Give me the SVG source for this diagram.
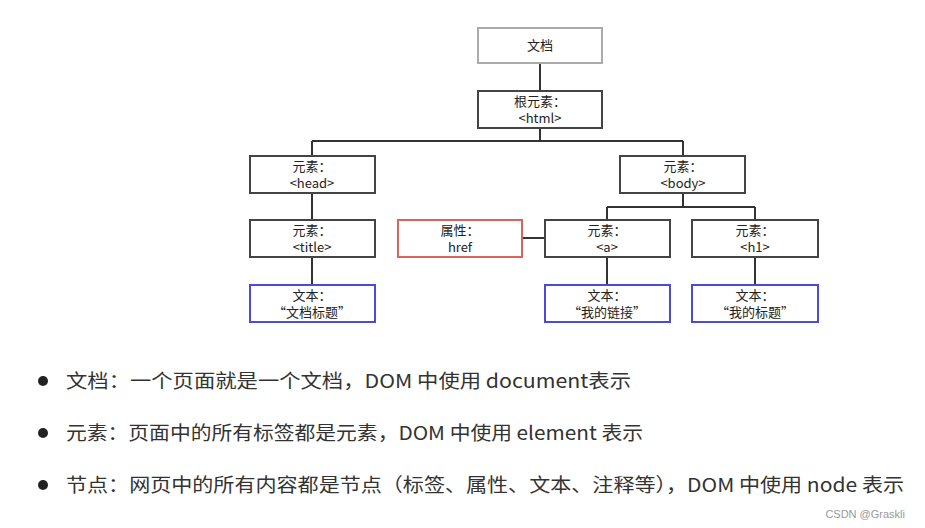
<svg xmlns="http://www.w3.org/2000/svg" width="925" height="528" viewBox="0 0 925 528">
<style>
.b{fill:#fff;stroke:#444;stroke-width:2}
.g{stroke:#aaa}.r{stroke:#e0605a}.u{stroke:#4a4ae0}
.t{font-family:"Noto Sans CJK SC",sans-serif;font-size:13px;fill:#222;text-anchor:middle}
.c line{stroke:#333;stroke-width:2}
.l{font-family:"Noto Sans CJK SC",sans-serif;font-size:19px;fill:#333}
</style>
<rect width="925" height="528" fill="#fff"/>
<g class="c">
<line x1="540" y1="63" x2="540" y2="91"/>
<line x1="540" y1="128" x2="540" y2="141"/>
<line x1="312" y1="141" x2="683" y2="141"/>
<line x1="312" y1="141" x2="312" y2="156"/>
<line x1="683" y1="141" x2="683" y2="156"/>
<line x1="312" y1="193" x2="312" y2="285"/>
<line x1="683" y1="193" x2="683" y2="207"/>
<line x1="607" y1="207" x2="755" y2="207"/>
<line x1="607" y1="207" x2="607" y2="285"/>
<line x1="755" y1="207" x2="755" y2="285"/>
<line x1="522" y1="238" x2="545" y2="238"/>
</g>
<g id="doc"><rect class="b g" x="478" y="28" width="124" height="35"/><text class="t" x="540" y="50">文档</text></g>
<g id="html"><rect class="b" x="478" y="91" width="124" height="37"/><text class="t" x="540" y="106">根元素：</text><text class="t" x="540" y="123">&lt;html&gt;</text></g>
<g id="head"><rect class="b" x="250" y="156" width="125" height="37"/><text class="t" x="312" y="171">元素：</text><text class="t" x="312" y="188">&lt;head&gt;</text></g>
<g id="body"><rect class="b" x="620" y="156" width="125" height="37"/><text class="t" x="683" y="171">元素：</text><text class="t" x="683" y="188">&lt;body&gt;</text></g>
<g id="title"><rect class="b" x="250" y="220" width="125" height="37"/><text class="t" x="312" y="235">元素：</text><text class="t" x="312" y="252">&lt;title&gt;</text></g>
<g id="href"><rect class="b r" x="398" y="220" width="124" height="37"/><text class="t" x="460" y="235">属性：</text><text class="t" x="460" y="252">href</text></g>
<g id="a"><rect class="b" x="545" y="220" width="125" height="37"/><text class="t" x="607" y="235">元素：</text><text class="t" x="607" y="252">&lt;a&gt;</text></g>
<g id="h1"><rect class="b" x="692" y="220" width="126" height="37"/><text class="t" x="755" y="235">元素：</text><text class="t" x="755" y="252">&lt;h1&gt;</text></g>
<g id="t1"><rect class="b u" x="250" y="285" width="125" height="37"/><text class="t" x="312" y="300">文本：</text><text class="t" x="312" y="317">“文档标题”</text></g>
<g id="t2"><rect class="b u" x="545" y="285" width="125" height="37"/><text class="t" x="607" y="300">文本：</text><text class="t" x="607" y="317">“我的链接”</text></g>
<g id="t3"><rect class="b u" x="692" y="285" width="126" height="37"/><text class="t" x="755" y="300">文本：</text><text class="t" x="755" y="317">“我的标题”</text></g>
<g id="list">
<circle cx="43" cy="381" r="5" fill="#222"/><text class="l" x="66" y="388" textLength="565" lengthAdjust="spacingAndGlyphs">文档：一个页面就是一个文档，DOM 中使用 document表示</text>
<circle cx="43" cy="433" r="5" fill="#222"/><text class="l" x="66" y="440" textLength="577" lengthAdjust="spacingAndGlyphs">元素：页面中的所有标签都是元素，DOM 中使用 element 表示</text>
<circle cx="43" cy="485" r="5" fill="#222"/><text class="l" x="66" y="492" textLength="838" lengthAdjust="spacingAndGlyphs">节点：网页中的所有内容都是节点（标签、属性、文本、注释等），DOM 中使用 node 表示</text>
</g>
<text x="905" y="518" font-family="Liberation Sans,sans-serif" font-size="11" fill="#999" text-anchor="end">CSDN @Graskli</text>
</svg>
